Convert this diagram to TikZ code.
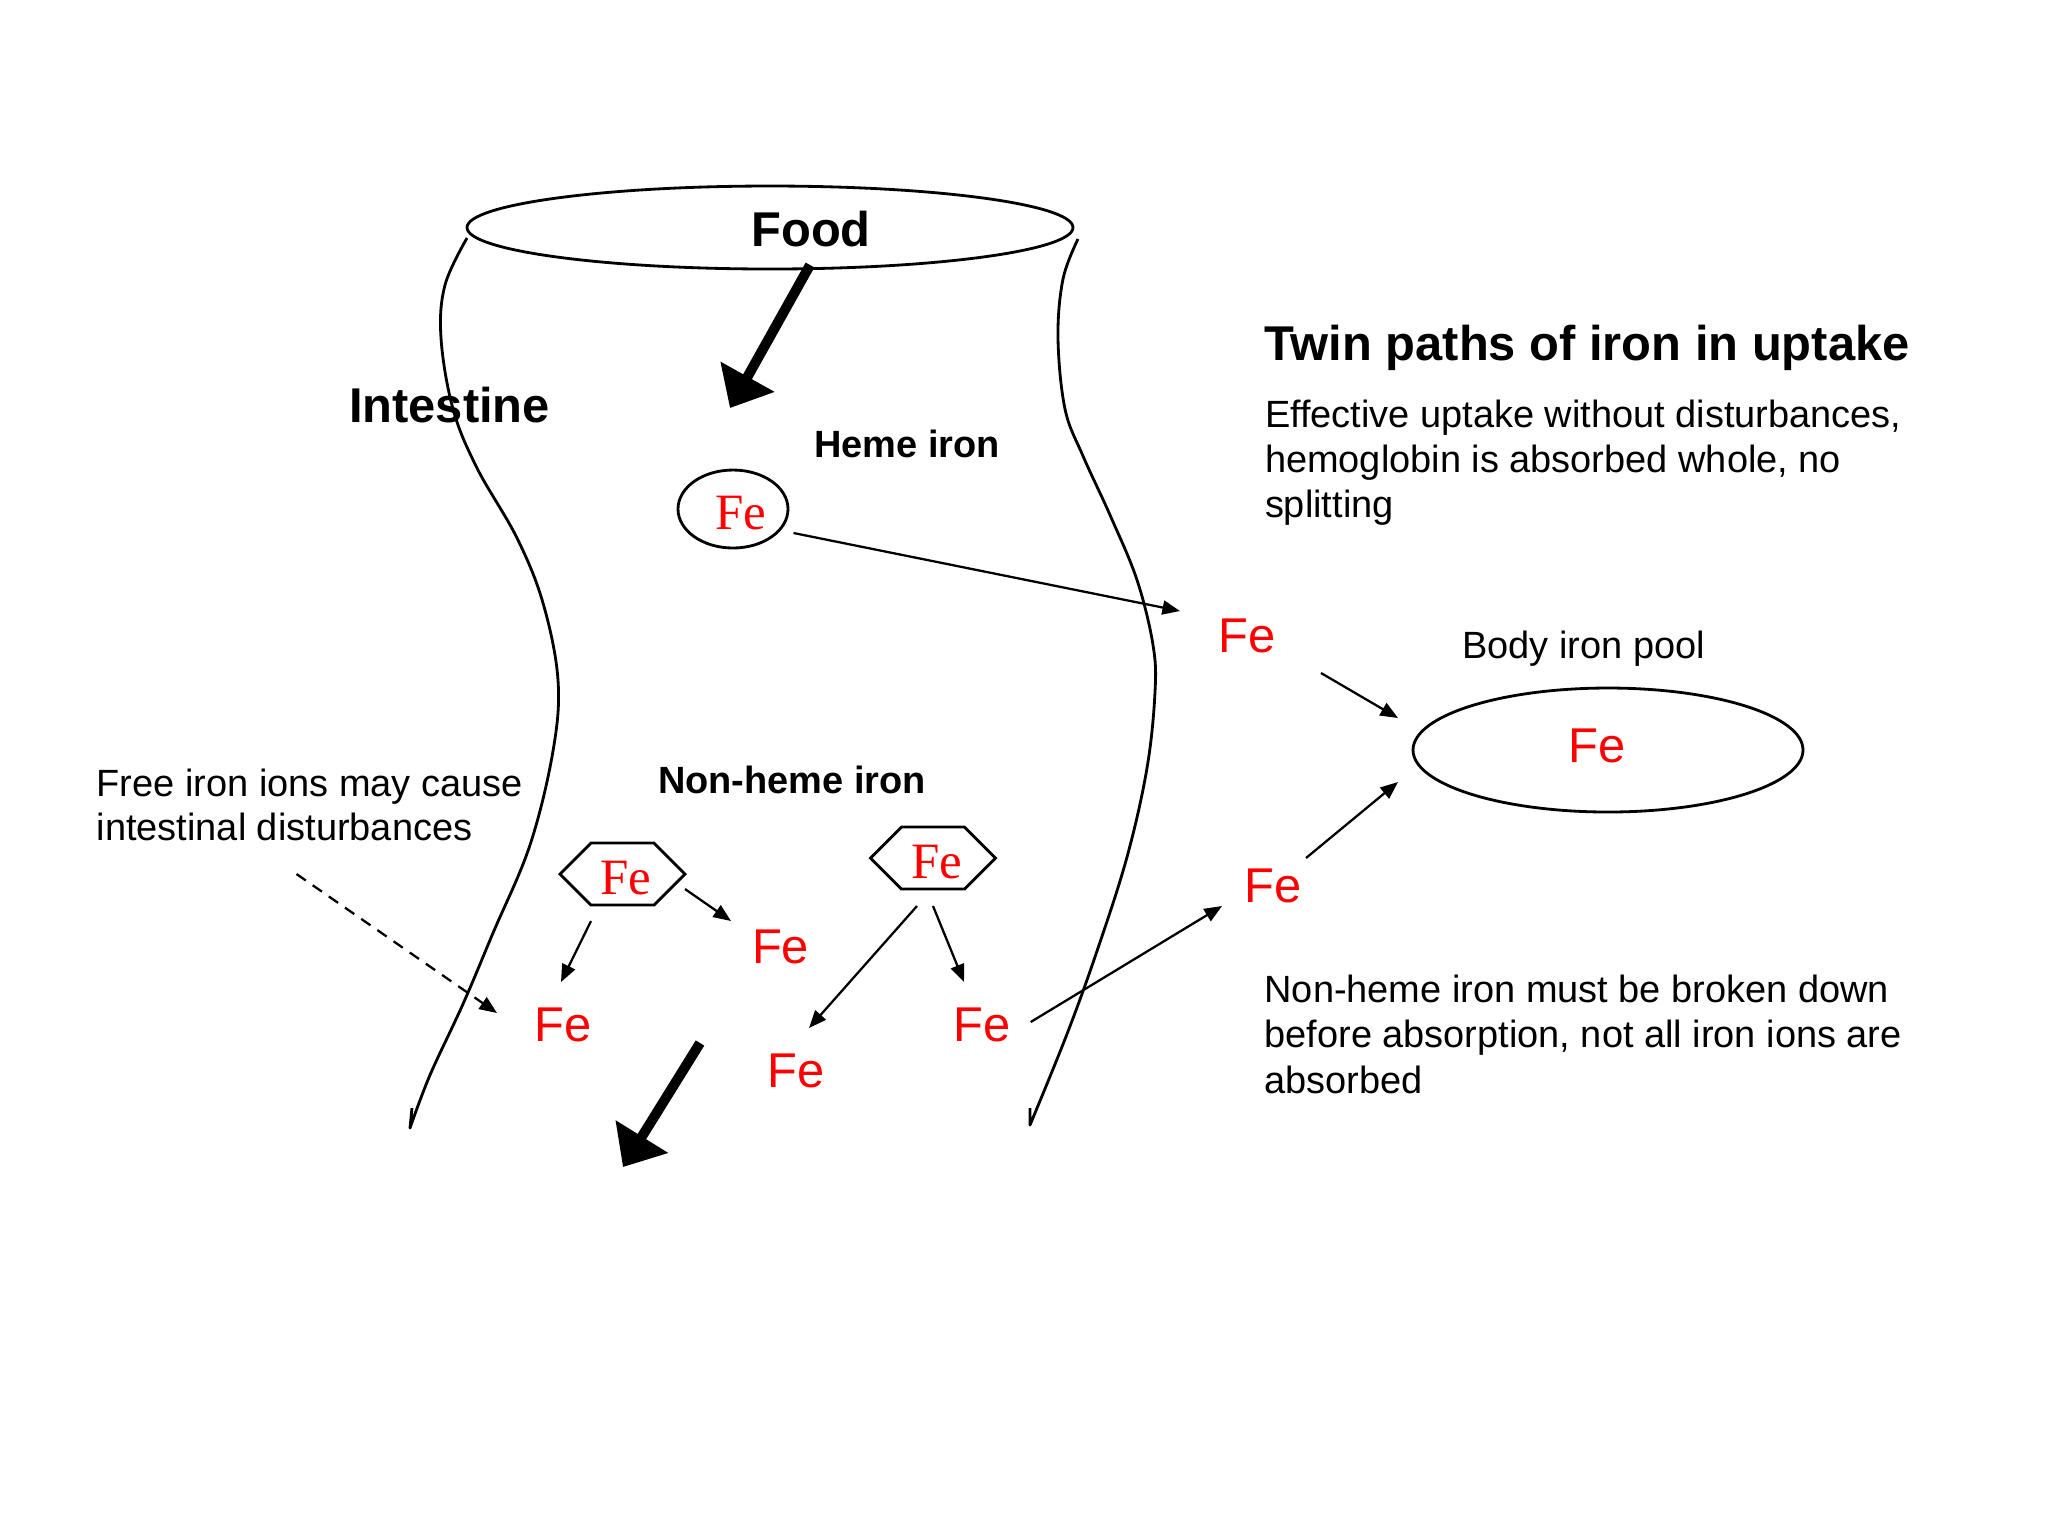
\documentclass[tikz,border=0pt]{standalone}
\usepackage{fontspec}
\setmainfont{Liberation Sans}
\newfontfamily\fetimes{Liberation Serif}
\usetikzlibrary{arrows.meta,shapes.geometric}

\tikzset{
  txt/.style={inner sep=0pt, outer sep=0pt},
  bigbold/.style={txt, font=\fontsize{13.9}{16}\selectfont\bfseries},
  smallbold/.style={txt, font=\fontsize{10.8}{12.8}\selectfont\bfseries},
  body/.style={txt, font=\fontsize{10.8}{12.7}\selectfont, align=left},
  fesans/.style={txt, text=red, font=\fontsize{13.9}{16}\selectfont},
  feserif/.style={txt, text=red, font=\fontsize{14.5}{17}\selectfont\fetimes},
  outline/.style={draw, line width=0.8pt},
  oval/.style={outline, ellipse, inner sep=0pt},
  thinarrow/.style={line width=0.65pt, -{Triangle[length=5pt,width=4pt]}},
  dasharrow/.style={thinarrow, dash pattern=on 3.2pt off 2.4pt},
  bigarrow/.style={line width=2.85pt, -{Triangle[length=10.2pt,width=17pt]}},
  gut/.style={line width=0.8pt, line join=round},
}

\begin{document}
\begin{tikzpicture}[x=0.1mm, y=-0.1mm]
\useasboundingbox[fill=white] (0,0) rectangle (2048,1536);

% intestine walls
\draw[gut] plot[smooth, tension=0.6] coordinates {
  (467,238) (445,285) (441,338) (453,409) (477,468) (517,538) (543,603)
  (558,680) (553,751) (530,845) (493,933) (463,1004) (430,1075) (410,1128)}
  -- (412,1108);
\draw[gut] plot[smooth, tension=0.6] coordinates {
  (1078,239) (1063,279) (1058,338) (1065,409) (1083,456) (1110,515) (1137,580)
  (1153,645) (1155,692) (1147,768) (1127,857) (1097,951) (1067,1034) (1030,1125)}
  -- (1030,1108);

% food opening
\node[oval, minimum width=60.6mm, minimum height=8.3mm] (food) at (770,227.5) {};
\node[bigbold, anchor=base] (foodtxt) at (811,246) {Food};
\coordinate (topend) at (730,408);
\draw[bigarrow] ([shift={(40,37.5)}]food.center) -- (topend);

% labels
\node[bigbold, anchor=base west] (intestine) at (349,422) {Intestine};
\node[smallbold, anchor=base] (hemelbl) at (907,457) {Heme iron};
\node[smallbold, anchor=base west] (nonheme) at (658,793) {Non-heme iron};
\node[bigbold, anchor=base west] (title) at (1264.5,360) {Twin paths of iron in uptake};
\node[body, anchor=base west] (hemenote) at (1265,517)
  {Effective uptake without disturbances,\\hemoglobin is absorbed whole, no\\splitting};
\node[body, anchor=base] (poollbl) at (1583.5,658) {Body iron pool};
\node[body, anchor=base west, font=\fontsize{10.8}{12.3}\selectfont] (freenote) at (96.7,840)
  {Free iron ions may cause\\intestinal disturbances};
\node[body, anchor=base west, font=\fontsize{10.8}{12.9}\selectfont] (nonhemenote) at (1264.5,1093)
  {Non-heme iron must be broken down\\before absorption, not all iron ions are\\absorbed};

% heme iron
\node[oval, minimum width=11mm, minimum height=7.8mm] (heme) at (733,509) {};
\node[feserif, anchor=base] (hemefe) at (740.5,529) {Fe};

% body iron pool
\node[oval, minimum width=39mm, minimum height=12.4mm] (pool) at (1608,750) {};
\node[fesans, anchor=base] (poolfe) at (1597,762) {Fe};

% absorbed iron
\node[fesans, anchor=base] (FeH) at (1246.7,652) {Fe};
\node[fesans, anchor=base] (FeL) at (1273,902) {Fe};

% non-heme complexes
\coordinate (h1) at (622.5,874);
\coordinate (h2) at (933,858);
\foreach \h in {h1,h2}{
  \draw[outline, line join=miter] ([shift={(-62.5,0)}]\h) -- ([shift={(-31.5,-31)}]\h)
    -- ([shift={(31.5,-31)}]\h) -- ([shift={(62.5,0)}]\h)
    -- ([shift={(31.5,31)}]\h) -- ([shift={(-31.5,31)}]\h) -- cycle;
}
\node[feserif, anchor=base] (hexAfe) at (626,894) {Fe};
\node[feserif, anchor=base] (hexBfe) at (937,878) {Fe};

\node[fesans, anchor=base] (FeA) at (563,1041) {Fe};
\node[fesans, anchor=base] (FeB) at (780.5,963) {Fe};
\node[fesans, anchor=base] (FeC) at (796,1087) {Fe};
\node[fesans, anchor=base] (FeD) at (982,1041) {Fe};

% connectors
\draw[thinarrow] ([shift={(60.5,24)}]heme.center) -- ([shift={(-66.7,-41)}]FeH.base);
\draw[thinarrow] ([shift={(74.3,21)}]FeH.base) -- ([shift={(-210,-32)}]pool.center);
\draw[thinarrow] ([shift={(33,-44)}]FeL.base) -- ([shift={(-210,32)}]pool.center);
\draw[thinarrow] ([shift={(-31.5,47)}]h1) -- ([shift={(-2,-59)}]FeA.base);
\draw[thinarrow] ([shift={(62.5,15)}]h1) -- ([shift={(-49.5,-42)}]FeB.base);
\draw[thinarrow] ([shift={(-16,48)}]h2) -- ([shift={(13,-59)}]FeC.base);
\draw[thinarrow] ([shift={(0,48)}]h2) -- ([shift={(-18,-59)}]FeD.base);
\draw[thinarrow] ([shift={(48.7,-19)}]FeD.base) -- ([shift={(-51,4)}]FeL.base);
\draw[dasharrow] ([shift={(199.8,34)}]freenote.base west) -- ([shift={(-66,-28)}]FeA.base);

% onward flow
\coordinate (botstart) at (700,1043);
\coordinate (botend) at (623,1167);
\draw[bigarrow] (botstart) -- (botend);
\end{tikzpicture}
\end{document}
